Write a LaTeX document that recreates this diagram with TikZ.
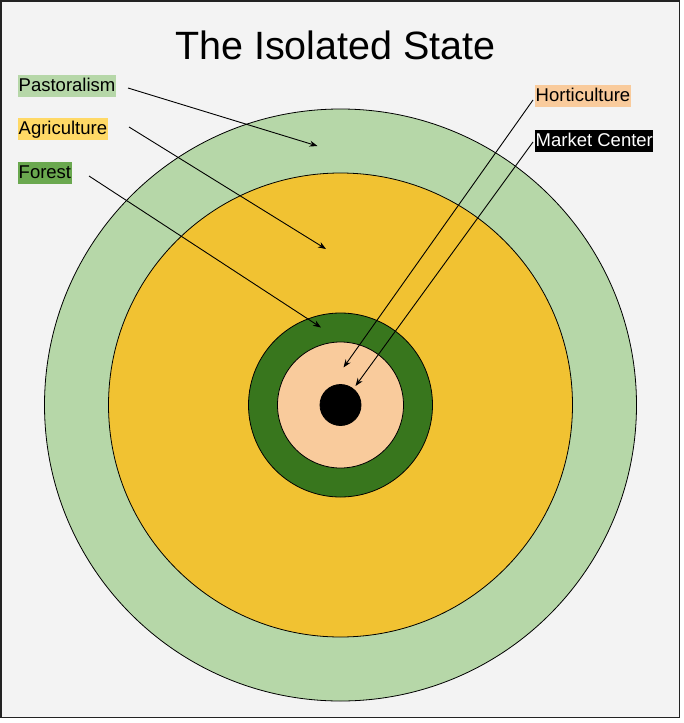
\documentclass[tikz,border=0pt]{standalone}
\usepackage{fontspec}
\setmainfont{Liberation Sans}
\usetikzlibrary{arrows.meta}
\definecolor{bgc}{HTML}{F3F3F3}
\definecolor{pastc}{HTML}{B6D7A8}
\definecolor{agric}{HTML}{F1C232}
\definecolor{forc}{HTML}{38761D}
\definecolor{hortc}{HTML}{F9CB9C}
\definecolor{agrilab}{HTML}{FFD966}
\definecolor{forlab}{HTML}{6AA84F}
\definecolor{framec}{HTML}{222222}
\tikzset{
  ring/.style={circle, draw=black, line width=0.8pt, inner sep=0pt},
  lab/.style={anchor=west, inner xsep=0.5pt, inner ysep=0pt, text height=16.5pt, text depth=5.5pt, font=\fontsize{18.5pt}{20pt}\selectfont},
  arr/.style={line width=0.9pt, -{Stealth[length=8pt,width=6pt]}}
}
\begin{document}
\begin{tikzpicture}[x=1pt,y=-1pt]
\useasboundingbox (0,0) rectangle (683,723);
\fill[white] (0,0) rectangle (683,723);
\draw[fill=bgc, draw=framec, line width=1.5pt] (0.75,0.75) rectangle (679.6,717.4);
\node[anchor=base, inner sep=0pt, font=\fontsize{39.5pt}{44pt}\selectfont] (title) at (335.5,59) {The Isolated State};
\node[ring, fill=pastc, minimum size=592pt] (c1) at (340.5,405) {};
\node[ring, fill=agric, minimum size=464pt] (c2) at (340.5,405) {};
\node[ring, fill=forc, minimum size=184pt] (c3) at (340.5,405) {};
\node[ring, fill=hortc, minimum size=126pt] (c4) at (340.5,405) {};
\node[ring, fill=black, minimum size=41pt] (c5) at (340.5,405) {};
\node[lab, fill=pastc] (pa) at (18,85.5) {Pastoralism};
\node[lab, fill=agrilab] (ag) at (18,129) {Agriculture};
\node[lab, fill=forlab] (fo) at (18,173) {Forest};
\node[lab, fill=hortc] (ho) at (535,96) {Horticulture};
\node[lab, fill=black, text=white] (mc) at (535,140.5) {Market Center};
\coordinate (pas) at (128,88);
\coordinate (pat) at (317.5,146);
\coordinate (ags) at (129,127);
\coordinate (agt) at (326,249);
\coordinate (fos) at (89,176);
\coordinate (fot) at (321,327.5);
\coordinate (hos) at (533,100);
\coordinate (hot) at (343.5,367.5);
\coordinate (mcs) at (533,142);
\coordinate (mct) at (355.5,386);
\draw[arr] (pas) -- (pat);
\draw[arr] (ags) -- (agt);
\draw[arr] (fos) -- (fot);
\draw[arr] (hos) -- (hot);
\draw[arr] (mcs) -- (mct);
\end{tikzpicture}
\end{document}
